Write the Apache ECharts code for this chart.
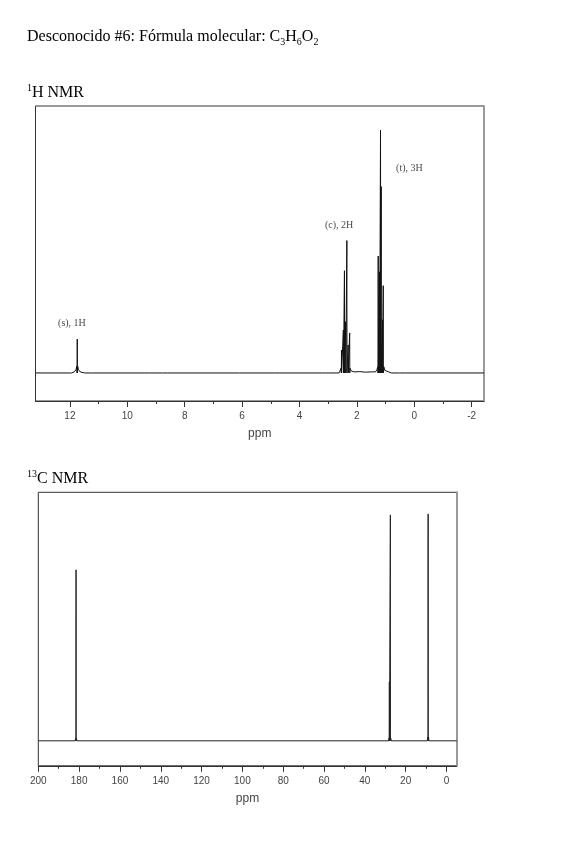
<!DOCTYPE html>
<html>
<head>
<meta charset="utf-8">
<script src="https://cdn.jsdelivr.net/npm/echarts@6.0.0/dist/echarts.min.js"></script>
<style>
  html, body { margin: 0; padding: 0; background: #fff; }
  #chart { width: 577px; height: 853px; }
</style>
</head>
<body>
<div id="chart"></div>
<script>
// ---------- 1H NMR data (ppm, relative intensity) ----------
const h1PeakPpm    = [11.745, 2.537, 2.471, 2.433, 2.391, 2.349, 2.304, 2.251, 1.257, 1.211, 1.176, 1.152, 1.106, 1.082];
const h1PeakHeight = [12.7,   8.6,   16.1,  38.3,  19.2,  49.6,  10.5,  15.0,  43.8,  37.9,  91.0,  69.8,  19.9,  32.7];
// baseline / peak feet / noise
const h1BasePpm   = [13.2, 11.95, 11.85, 11.79, 11.76, 11.73, 11.70, 11.64, 11.5, 11.22, 11.2, 11.18, 9.23, 9.21, 9.19, 8.78, 8.76, 8.74, 8.60, 8.58, 8.56, 6.09, 6.07, 6.05, 4.87, 4.85, 4.83, 3.2, 3.18, 3.1, 3.04, 3.0, 2.62, 2.58, 2.55, 2.24, 2.2, 2.1, 1.9, 1.7, 1.5, 1.35, 1.3, 1.27, 1.06, 1.03, 0.98, 0.8, 0.52, 0.49, 0.46, 0.3, -2.43];
const h1BaseValue = [0,    0,     0.4,   1.2,   2.5,   2.5,   1.2,   0.4,   0,    0,     0.6,  0,     0,    0.5,  0,    0,    0.5,  0,    0,    0.5,  0,    0,    0.5,  0,    0,    0.4,  0,    0,   0.5,  0,   0.5,  0,   0,    0.6,  1.8,  1.8,  0.8, 0.4, 0.5, 0.3, 0.4, 0.4,  1.3, 2.3,  2.3,  1.0,  0.3,  0,   0,    0.6,  0,    0,   0];
const h1AxisMajor = [12, 10, 8, 6, 4, 2, 0, -2];
const h1AxisMinor = [11, 9, 7, 5, 3, 1, -1];
const h1Labels    = ['(s), 1H', '(c), 2H', '(t), 3H'];
const h1LabelPpm  = [11.93, 2.62, 0.17];
const h1LabelY    = [18.4, 55.1, 76.5];

// ---------- 13C NMR data ----------
const c13PeakPpm    = [181.5, 28.0, 27.5, 9.0];
const c13PeakHeight = [68.8,  23.7, 90.9, 91.3];
const c13BasePpm    = [200, 181.9, 181.7, 181.3, 181.1, 28.4, 28.2, 27.3, 27.1, 9.4, 9.2, 8.8, 8.6, -5];
const c13BaseValue  = [0,   0,     1.0,   1.0,   0,     0,    1.0,  1.0,  0,    0,   1.5, 1.5, 0,   0];
const c13AxisMajor  = [200, 180, 160, 140, 120, 100, 80, 60, 40, 20, 0];
const c13AxisMinor  = [190, 170, 150, 130, 110, 90, 70, 50, 30, 10];

function buildSpectrum(peakPpm, peakHeight, basePpm, baseValue, w) {
  const pts = [];
  for (let i = 0; i < basePpm.length; i++) pts.push([basePpm[i], baseValue[i]]);
  for (let i = 0; i < peakPpm.length; i++) {
    pts.push([peakPpm[i] + w, 0]);
    pts.push([peakPpm[i], peakHeight[i]]);
    pts.push([peakPpm[i] - w, 0]);
  }
  pts.sort((a, b) => b[0] - a[0]);
  return pts;
}

const h1Data  = buildSpectrum(h1PeakPpm, h1PeakHeight, h1BasePpm, h1BaseValue, 0.004);
const c13Data = buildSpectrum(c13PeakPpm, c13PeakHeight, c13BasePpm, c13BaseValue, 0.05);

const SANS = 'Liberation Sans, Arial, sans-serif';
const SERIF = 'Liberation Serif, Times New Roman, serif';

function xMain(grid, min, max, values) {
  return {
    type: 'value', gridIndex: grid, min: min, max: max, inverse: true,
    name: 'ppm', nameLocation: 'middle', nameGap: 27,
    nameTextStyle: { fontFamily: SANS, fontSize: 12, color: '#444' },
    axisLine: { show: true, onZero: false, lineStyle: { color: '#333', width: 1 } },
    axisTick: { show: true, customValues: values, length: 6, lineStyle: { color: '#333' } },
    axisLabel: { show: true, customValues: values, margin: 10, fontFamily: SANS, fontSize: 10, color: '#444' },
    splitLine: { show: false }
  };
}
function xMinor(grid, min, max, values) {
  return {
    type: 'value', gridIndex: grid, min: min, max: max, inverse: true, position: 'bottom',
    axisLine: { show: false, onZero: false },
    axisTick: { show: true, customValues: values, length: 3, lineStyle: { color: '#333' } },
    axisLabel: { show: false },
    splitLine: { show: false }
  };
}
function yAx(grid, min, max) {
  return {
    type: 'value', gridIndex: grid, min: min, max: max, position: 'right',
    axisLine: { show: true, onZero: false, lineStyle: { color: '#999', width: 2 } },
    axisTick: { show: false }, axisLabel: { show: false }, splitLine: { show: false }
  };
}

const chart = echarts.init(document.getElementById('chart'), null, { renderer: 'canvas' });
const titleRich = {
  t: { fontFamily: SERIF, fontSize: 16, fontWeight: 'normal', color: '#000', lineHeight: 20 },
  s: { fontFamily: SERIF, fontSize: 10, fontWeight: 'normal', color: '#000', lineHeight: 11, verticalAlign: 'bottom' },
  p: { fontFamily: SERIF, fontSize: 10, fontWeight: 'normal', color: '#000', lineHeight: 10, verticalAlign: 'top' }
};
const titleStyle = { fontWeight: 'normal', fontFamily: SERIF, fontSize: 16, color: '#000', rich: titleRich };
chart.setOption({
  animation: false,
  backgroundColor: '#fff',
  title: [
    { text: '{t|Desconocido #6: Fórmula molecular: C}{s|3}{t|H}{s|6}{t|O}{s|2}', left: 27, top: 27, padding: 0, textStyle: titleStyle },
    { text: '{p|1}{t|H NMR}', left: 27, top: 83, padding: 0, textStyle: titleStyle },
    { text: '{p|13}{t|C NMR}', left: 27, top: 469, padding: 0, textStyle: titleStyle }
  ],
  grid: [
    { left: 35.5, top: 106, width: 448.5, height: 295, show: true, borderColor: '#333', borderWidth: 1, backgroundColor: 'transparent' },
    { left: 38.3, top: 492.3, width: 418.4, height: 273.5, show: true, borderColor: '#333', borderWidth: 1, backgroundColor: 'transparent' }
  ],
  xAxis: [
    xMain(0, -2.43, 13.2, h1AxisMajor),
    xMinor(0, -2.43, 13.2, h1AxisMinor),
    xMain(1, -5, 200, c13AxisMajor),
    xMinor(1, -5, 200, c13AxisMinor)
  ],
  yAxis: [
    yAx(0, -10.5, 100),
    yAx(1, -10.05, 100)
  ],
  series: [
    {
      type: 'line', xAxisIndex: 0, yAxisIndex: 0, data: h1Data, showSymbol: false, symbol: 'none',
      lineStyle: { color: '#111', width: 1 }, silent: true
    },
    {
      type: 'line', xAxisIndex: 2, yAxisIndex: 1, data: c13Data, showSymbol: false, symbol: 'none',
      lineStyle: { color: '#222', width: 1 }, silent: true
    },
    {
      type: 'scatter', xAxisIndex: 0, yAxisIndex: 0, symbolSize: 0,
      data: h1Labels.map((t, i) => ({ name: t, value: [h1LabelPpm[i], h1LabelY[i]] })),
      label: { show: true, position: 'inside', formatter: p => p.name, fontFamily: SERIF, fontSize: 10, color: '#111' },
      silent: true
    }
  ]
});
</script>
</body>
</html>
